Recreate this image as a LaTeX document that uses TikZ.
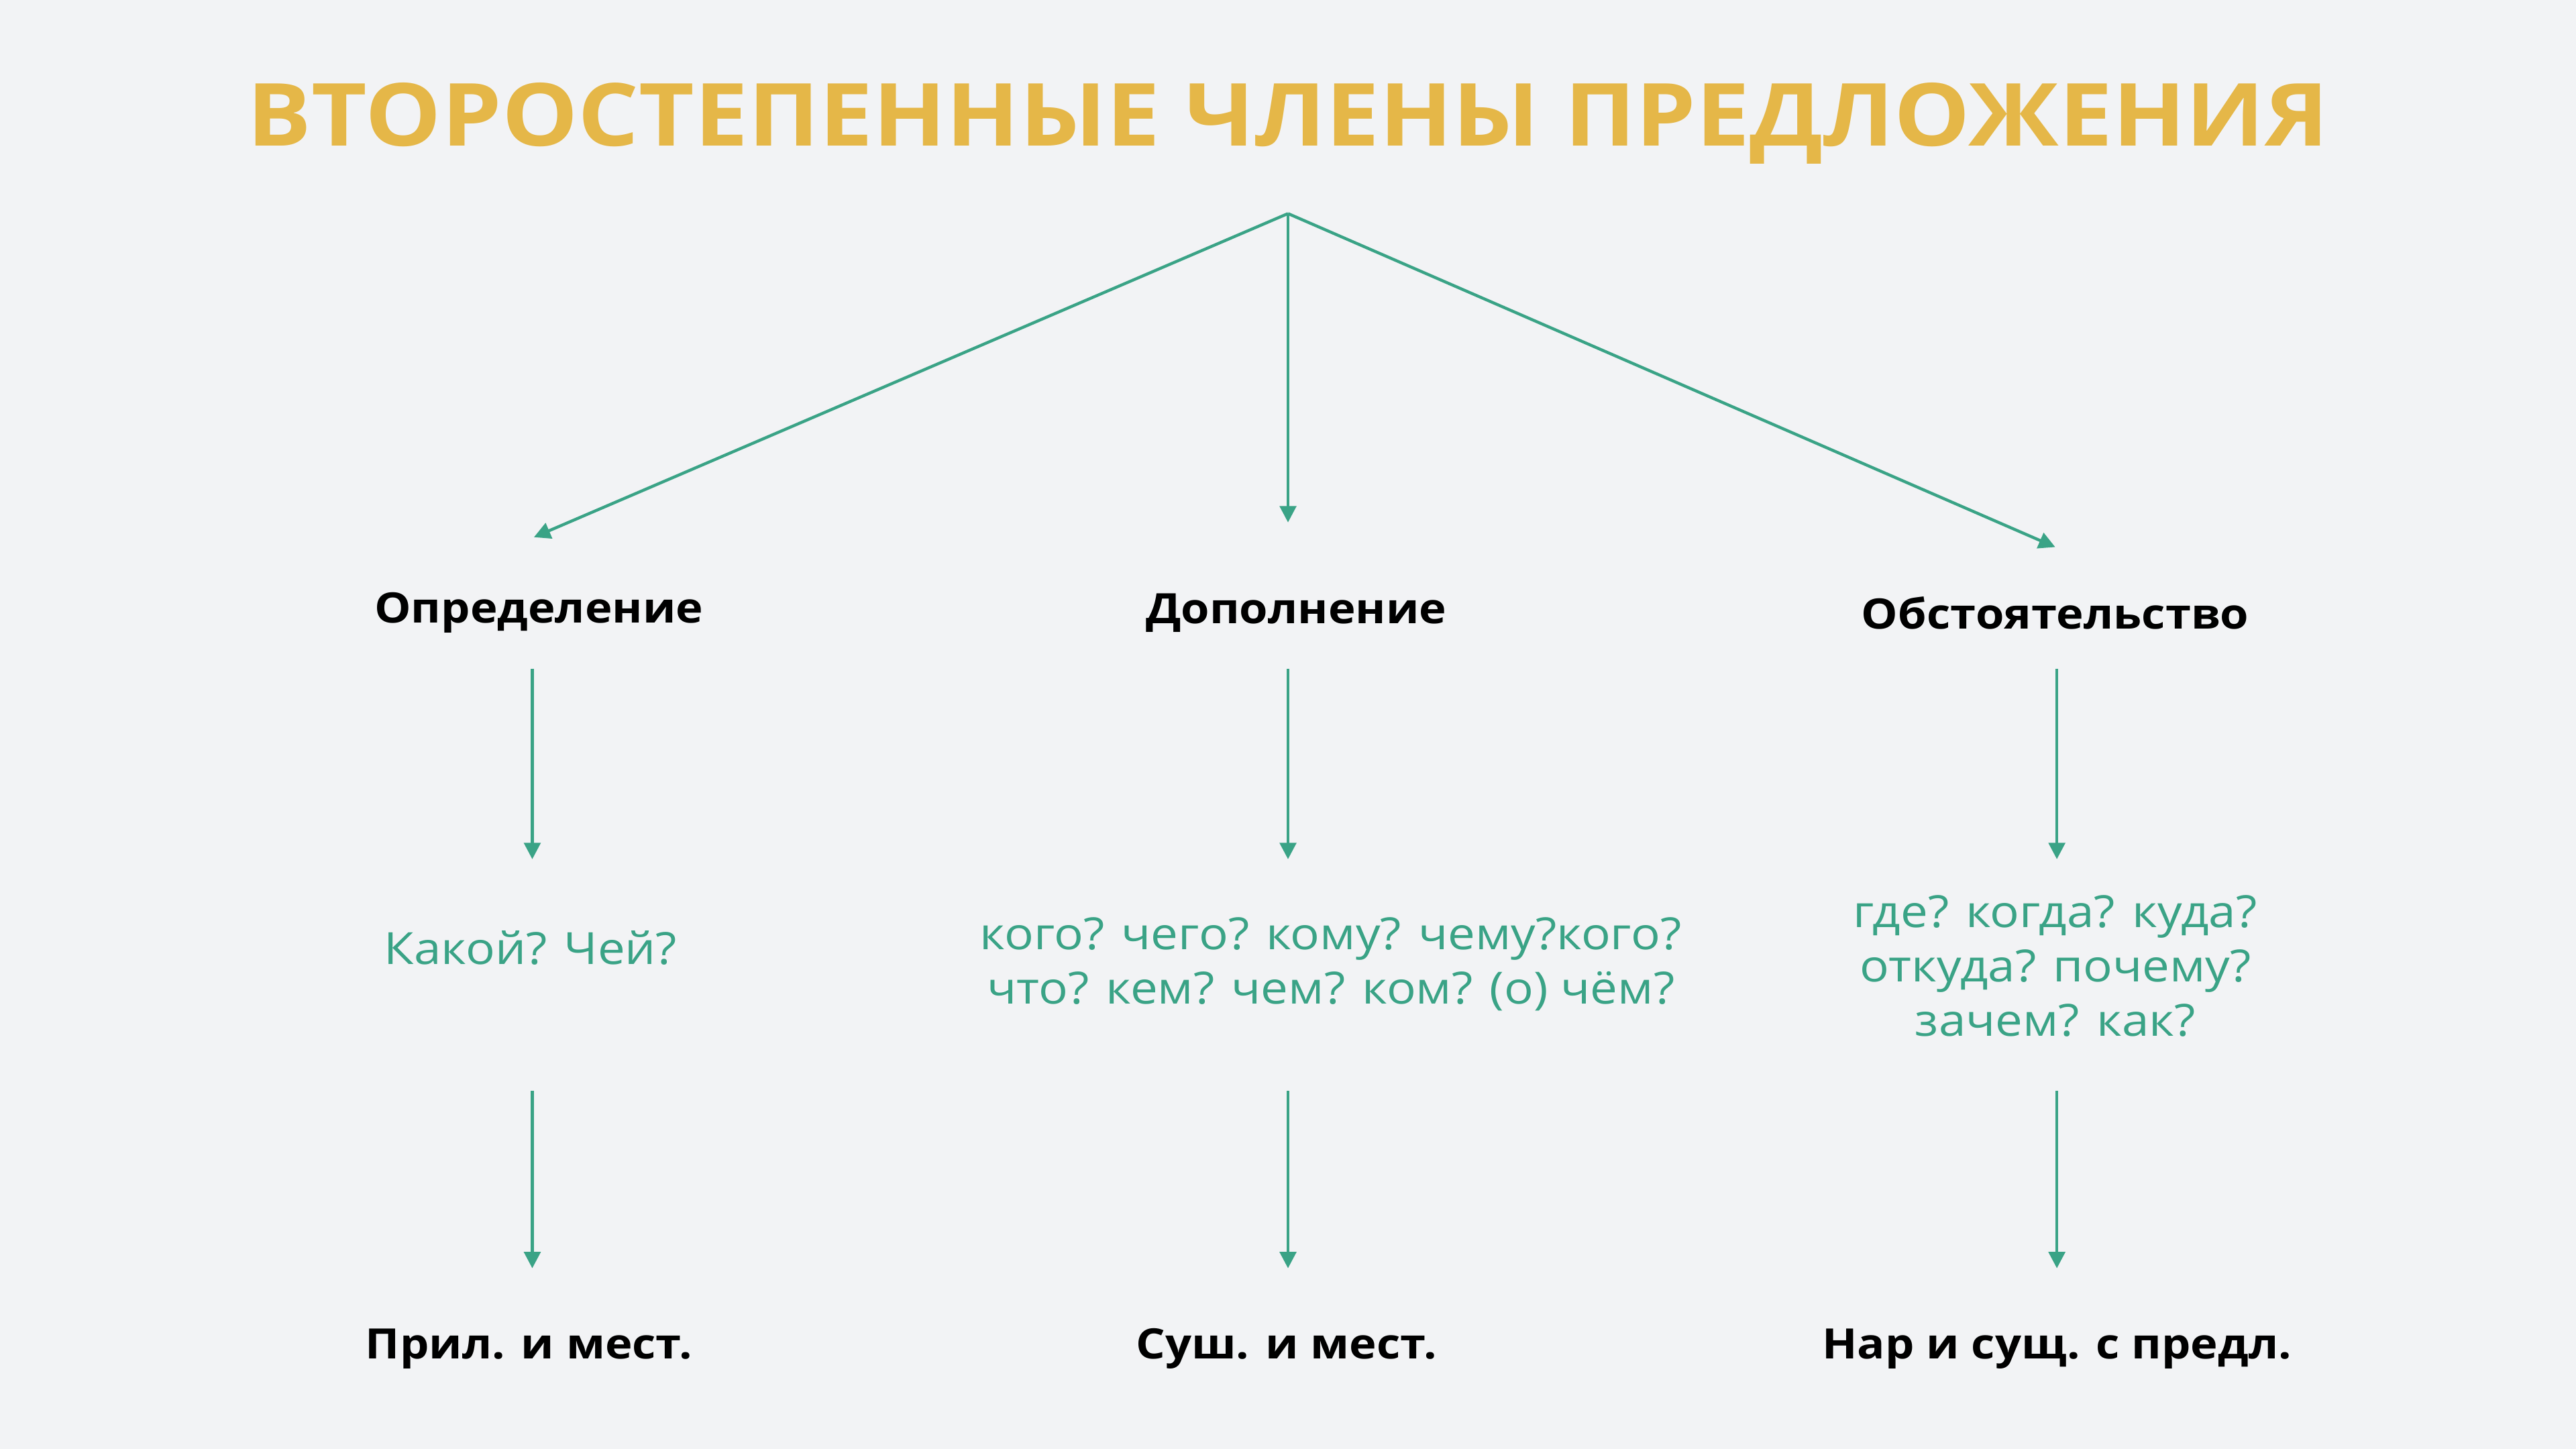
\documentclass[tikz,border=0pt]{standalone}
\usepackage{fontspec}
\setmainfont{Open Sans}[FakeStretch=1.1]
\usetikzlibrary{arrows.meta}
\definecolor{gold}{RGB}{229,183,72}
\definecolor{teal}{RGB}{58,163,134}
\definecolor{bg}{RGB}{242,243,245}
\tikzset{
 conn/.style={draw=teal,line width=1.8pt,-{Triangle[length=10pt,width=10pt]}},
 head/.style={font=\fontsize{25.5}{30}\selectfont\bfseries,text=black},
 q/.style={font=\fontsize{27}{33}\selectfont,text=teal,align=center},
}
\begin{document}
\begin{tikzpicture}[x=1pt,y=-1pt]
\fill[bg] (0,0) rectangle (1568,882);
\useasboundingbox (0,0) rectangle (1568,882);
\node[font=\fontsize{53}{60}\selectfont\bfseries,text=gold] (title) at (784,75) {ВТОРОСТЕПЕННЫЕ ЧЛЕНЫ ПРЕДЛОЖЕНИЯ};
\coordinate (apex) at (784,130);
\coordinate (t1) at (325,327);
\coordinate (t2) at (784,318);
\coordinate (t3) at (1251,333);
\draw[conn] (apex) -- (t1);
\draw[conn] (apex) -- (t2);
\draw[conn] (apex) -- (t3);
\node[head] (h1) at (328,373) {Определение};
\node[head] (h2) at (789,373) {Дополнение};
\node[head] (h3) at (1251,373) {Обстоятельство};
\node[q] (q1) at (323,577) {Какой? Чей?};
\node[q] (q2) at (810,587) {кого? чего? кому? чему?кого?\\что? кем? чем? ком? (о) чём?};
\node[q] (q3) at (1251,588) {где? когда? куда?\\откуда? почему?\\зачем? как?};
\node[head] (b1) at (322,821) {Прил. и мест.};
\node[head] (b2) at (783,821) {Суш. и мест.};
\node[head] (b3) at (1252,821) {Нар и сущ. с предл.};
\foreach \x/\i in {324/1,784/2,1252/3}{
 \coordinate (s\i) at (\x,407); \coordinate (e\i) at (\x,523);
 \coordinate (u\i) at (\x,664); \coordinate (v\i) at (\x,772);
 \draw[conn] (s\i) -- (e\i);
 \draw[conn] (u\i) -- (v\i);
}
\end{tikzpicture}
\end{document}
